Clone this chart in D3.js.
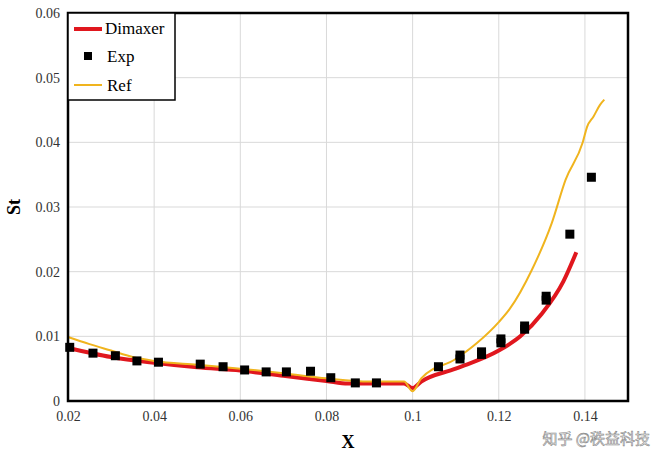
<!DOCTYPE html><html><head><meta charset="utf-8"><script src="https://cdn.jsdelivr.net/npm/d3@7"></script>
<style>body{margin:0;background:#fff}</style></head><body><svg id="c" width="666" height="467"></svg><script>
const xTicks=[0.02,0.04,0.06,0.08,0.1,0.12,0.14];
const yTicks=[0,0.01,0.02,0.03,0.04,0.05,0.06];
const dimX=[0.02,0.03,0.04,0.05,0.06,0.07,0.08,0.085,0.09,0.098,0.1,0.102,0.11,0.12,0.125,0.13,0.135,0.138];
const dimY=[0.0082,0.0068,0.0059,0.0052,0.0047,0.0039,0.0031,0.0027,0.0027,0.0027,0.0020,0.0030,0.0050,0.0078,0.0100,0.0135,0.0185,0.0230];
const refX=[0.02,0.025,0.03,0.035,0.04,0.05,0.06,0.07,0.08,0.09,0.098,0.1,0.102,0.11,0.115,0.12,0.1225,0.1277,0.1323,0.1355,0.1395,0.1405,0.142,0.1435,0.1445];
const refY=[0.0099,0.0088,0.0078,0.0068,0.0062,0.0056,0.0050,0.0043,0.0035,0.0030,0.0030,0.0015,0.0035,0.0065,0.0090,0.0122,0.0142,0.0203,0.0275,0.0342,0.0400,0.0424,0.0440,0.0458,0.0466];
const expX=[0.0204,0.0258,0.031,0.036,0.041,0.0507,0.056,0.061,0.066,0.0707,0.0763,0.081,0.0867,0.0916,0.106,0.111,0.111,0.116,0.116,0.1205,0.1205,0.126,0.126,0.131,0.131,0.1365,0.1415];
const expY=[0.0083,0.0074,0.0070,0.0062,0.0060,0.0057,0.0053,0.0048,0.0045,0.0045,0.0046,0.0036,0.0028,0.0028,0.0053,0.0065,0.0071,0.0072,0.0076,0.0090,0.0096,0.0111,0.0116,0.0156,0.0162,0.0258,0.0346];
const svg=d3.select("#c");
const L=68,R=628,T=13,B=401;
const x=d3.scaleLinear().domain([0.02,0.15]).range([L,R]);
const y=d3.scaleLinear().domain([0,0.06]).range([B,T]);
const g=svg.append("g");
g.selectAll(".vx").data(xTicks.slice(1)).join("line").attr("x1",d=>x(d)).attr("x2",d=>x(d)).attr("y1",T).attr("y2",B).attr("stroke","#d9d9d9");
g.selectAll(".hy").data(yTicks.slice(1)).join("line").attr("y1",d=>y(d)).attr("y2",d=>y(d)).attr("x1",L).attr("x2",R).attr("stroke","#d9d9d9");
const xa=svg.append("g").attr("transform",`translate(0,${B})`).call(d3.axisBottom(x).tickValues(xTicks).tickSize(0).tickPadding(10).tickFormat(d=>d3.format("")(+d.toFixed(2))));
const ya=svg.append("g").attr("transform",`translate(${L},0)`).call(d3.axisLeft(y).tickValues(yTicks).tickSize(0).tickPadding(8).tickFormat(d=>d===0?"0":d.toFixed(2)));
[xa,ya].forEach(a=>{a.select(".domain").remove();a.selectAll("text").attr("font-family","Liberation Serif").attr("font-size",14).attr("fill","#333");});
const line=d3.line().x(d=>x(d[0])).y(d=>y(d[1])).curve(d3.curveMonotoneX);
svg.append("path").datum(dimX.map((v,i)=>[v,dimY[i]])).attr("d",line).attr("fill","none").attr("stroke","#e0171e").attr("stroke-width",4);
svg.append("path").datum(refX.map((v,i)=>[v,refY[i]])).attr("d",line).attr("fill","none").attr("stroke","#f0b41e").attr("stroke-width",2);
svg.selectAll(".e").data(expX.map((v,i)=>[v,expY[i]])).join("rect").attr("x",d=>x(d[0])-4.5).attr("y",d=>y(d[1])-4.5).attr("width",9).attr("height",9).attr("fill","#000");
svg.append("rect").attr("x",L).attr("y",T).attr("width",R-L).attr("height",B-T).attr("fill","none").attr("stroke","#000").attr("stroke-width",2.5);
const lg=svg.append("g");
lg.append("rect").attr("x",L).attr("y",T).attr("width",107).attr("height",87).attr("fill","#fff").attr("stroke","#000").attr("stroke-width",1.5);
lg.append("line").attr("x1",74).attr("x2",102).attr("y1",29).attr("y2",29).attr("stroke","#e0171e").attr("stroke-width",4);
lg.append("rect").attr("x",84).attr("y",52).attr("width",8).attr("height",8).attr("fill","#000");
lg.append("line").attr("x1",74).attr("x2",102).attr("y1",85).attr("y2",85).attr("stroke","#f0b41e").attr("stroke-width",2);
[["Dimaxer",34],["Exp",62],["Ref",91]].forEach(([t,yy])=>lg.append("text").attr("x",t==="Dimaxer"?105:107).attr("y",yy).text(t).attr("font-family","Liberation Serif").attr("font-size",17));
svg.append("text").attr("x",348).attr("y",448).attr("text-anchor","middle").text("X").attr("font-family","Liberation Serif").attr("font-weight","bold").attr("font-size",18);
svg.append("text").attr("transform","translate(20,207) rotate(-90)").attr("text-anchor","middle").text("St").attr("font-family","Liberation Serif").attr("font-weight","bold").attr("font-size",18);
svg.append("text").attr("x",650).attr("y",444).attr("text-anchor","end").text("知乎 @秩益科技").attr("font-family","Noto Sans CJK SC").attr("font-size",15).attr("fill","#fff").attr("stroke","#888").attr("stroke-width",0.6);
</script></body></html>
